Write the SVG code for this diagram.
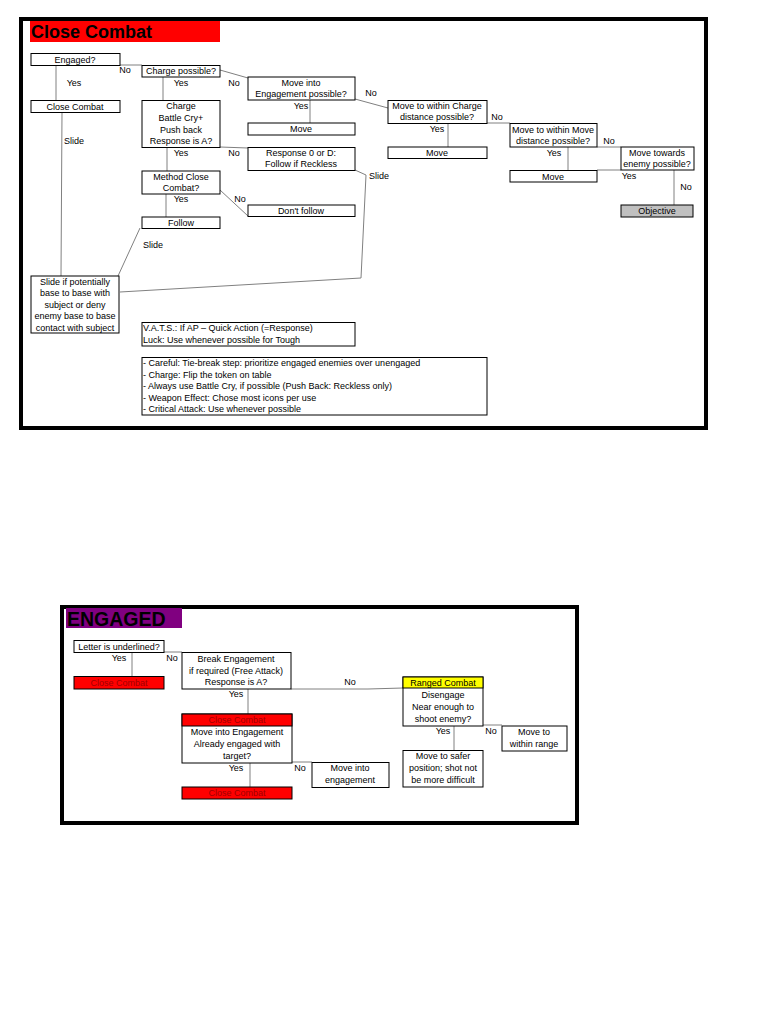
<svg xmlns="http://www.w3.org/2000/svg" width="768" height="1024" viewBox="0 0 768 1024">
<style>
.bx{fill:#fff;stroke:#000;stroke-width:1}
.t{font-family:"Liberation Sans",Arial,sans-serif;font-size:9px;fill:#000;text-anchor:middle}
.l{font-family:"Liberation Sans",Arial,sans-serif;font-size:9px;fill:#000}
.r{fill:#a00000}
.c line,.c polyline{stroke:#808080;stroke-width:1;fill:none}
.frame{fill:none;stroke:#000;stroke-width:4}
</style>
<rect width="768" height="1024" fill="#fff"/>
<rect class="frame" x="21" y="19" width="685" height="409"/>
<rect class="frame" x="62" y="607" width="515" height="216"/>
<g id="title1"><rect x="30" y="21" width="190" height="21" fill="#ff0000"/><text x="31" y="37.5" style="font-family:'Liberation Sans',Arial,sans-serif;font-size:18px;font-weight:bold">Close Combat</text></g>
<g id="title2"><rect x="66" y="608" width="116" height="20" fill="#800080"/><text x="67" y="625.5" style="font-family:'Liberation Sans',Arial,sans-serif;font-size:19.5px;font-weight:bold">ENGAGED</text></g>

<g class="c" id="connectors">
<line x1="56" y1="65" x2="56" y2="100"/>
<line x1="120" y1="65" x2="142" y2="65"/>
<line x1="163" y1="77" x2="163" y2="100"/>
<line x1="220" y1="70" x2="248" y2="78"/>
<line x1="310" y1="100" x2="310" y2="123"/>
<line x1="355" y1="99" x2="388" y2="108"/>
<line x1="167" y1="147" x2="167" y2="171"/>
<line x1="220" y1="147" x2="248" y2="148"/>
<line x1="166" y1="194" x2="166" y2="217"/>
<line x1="220" y1="190" x2="248" y2="216"/>
<polyline points="355,170 366,175 361,278 120,292"/>
<line x1="62" y1="112" x2="61" y2="276"/>
<line x1="140" y1="228" x2="118" y2="276"/>
<line x1="448" y1="123" x2="448" y2="147"/>
<line x1="487" y1="123" x2="510" y2="123"/>
<line x1="568" y1="147" x2="568" y2="170"/>
<line x1="597" y1="147" x2="621" y2="147"/>
<line x1="597" y1="170" x2="621" y2="170"/>
<line x1="674" y1="170" x2="674" y2="205"/>
<line x1="132" y1="652" x2="132" y2="676"/>
<line x1="164" y1="652" x2="182" y2="652"/>
<line x1="248" y1="689" x2="248" y2="714"/>
<polyline points="291,689 368,689 403,688"/>
<line x1="250" y1="763" x2="250" y2="787"/>
<line x1="292" y1="762" x2="312" y2="762"/>
<line x1="454" y1="726" x2="454" y2="750"/>
<line x1="483" y1="725" x2="502" y2="725"/>
</g>

<g id="labels">
<text class="t" x="74" y="86">Yes</text>
<text class="t" x="125" y="73">No</text>
<text class="t" x="181" y="86">Yes</text>
<text class="t" x="234" y="86">No</text>
<text class="t" x="301" y="109">Yes</text>
<text class="t" x="371" y="96">No</text>
<text class="t" x="181" y="156">Yes</text>
<text class="t" x="234" y="156">No</text>
<text class="t" x="181" y="202">Yes</text>
<text class="t" x="240" y="202">No</text>
<text class="t" x="74" y="144">Slide</text>
<text class="t" x="153" y="248">Slide</text>
<text class="t" x="379" y="179">Slide</text>
<text class="t" x="437" y="132">Yes</text>
<text class="t" x="497" y="120">No</text>
<text class="t" x="554" y="156">Yes</text>
<text class="t" x="609" y="144">No</text>
<text class="t" x="629" y="179">Yes</text>
<text class="t" x="686" y="190">No</text>
<text class="t" x="119" y="661">Yes</text>
<text class="t" x="172" y="661">No</text>
<text class="t" x="236" y="697">Yes</text>
<text class="t" x="350" y="685">No</text>
<text class="t" x="236" y="771">Yes</text>
<text class="t" x="300" y="771">No</text>
<text class="t" x="443" y="734">Yes</text>
<text class="t" x="491" y="734">No</text>
</g>

<g id="n-engaged"><rect class="bx" x="31" y="53.5" width="89" height="12"/><text class="t" x="75" y="62.5">Engaged?</text></g>
<g id="n-cc"><rect class="bx" x="31" y="100.5" width="89" height="12"/><text class="t" x="75" y="109.5">Close Combat</text></g>
<g id="n-chargepos"><rect class="bx" x="142" y="65.5" width="78" height="11.5"/><text class="t" x="181" y="74">Charge possible?</text></g>
<g id="n-charge"><rect class="bx" x="142" y="100.5" width="78" height="47"/>
<text class="t" x="181" y="109">Charge</text><text class="t" x="181" y="121">Battle Cry+</text><text class="t" x="181" y="132.5">Push back</text><text class="t" x="181" y="144">Response is A?</text></g>
<g id="n-method"><rect class="bx" x="142" y="171" width="78" height="23"/><text class="t" x="181" y="179.5">Method Close</text><text class="t" x="181" y="191">Combat?</text></g>
<g id="n-follow"><rect class="bx" x="142" y="217" width="78" height="11.5"/><text class="t" x="181" y="225.5">Follow</text></g>
<g id="n-moveeng"><rect class="bx" x="248" y="77" width="107" height="23"/><text class="t" x="301" y="86">Move into</text><text class="t" x="301" y="97">Engagement possible?</text></g>
<g id="n-move1"><rect class="bx" x="248" y="123" width="107" height="12"/><text class="t" x="301" y="132">Move</text></g>
<g id="n-resp"><rect class="bx" x="248" y="147.5" width="107" height="23"/><text class="t" x="301" y="156">Response 0 or D:</text><text class="t" x="301" y="167">Follow if Reckless</text></g>
<g id="n-dontfollow"><rect class="bx" x="248" y="205" width="107" height="11.5"/><text class="t" x="301" y="214">Don't follow</text></g>
<g id="n-chargedist"><rect class="bx" x="388" y="100.5" width="99" height="23"/><text class="t" x="437" y="109">Move to within Charge</text><text class="t" x="437" y="120">distance possible?</text></g>
<g id="n-move2"><rect class="bx" x="388" y="147" width="99" height="11.5"/><text class="t" x="437" y="156">Move</text></g>
<g id="n-movedist"><rect class="bx" x="510" y="123.5" width="87" height="23.5"/><text class="t" x="553" y="132.5">Move to within Move</text><text class="t" x="553" y="144">distance possible?</text></g>
<g id="n-move3"><rect class="bx" x="510" y="170.5" width="87" height="11.5"/><text class="t" x="553" y="179.5">Move</text></g>
<g id="n-towards"><rect class="bx" x="621" y="147" width="73" height="23"/><text class="t" x="657" y="156">Move towards</text><text class="t" x="657" y="167">enemy possible?</text></g>
<g id="n-objective"><rect x="621" y="205" width="72" height="12" fill="#c0c0c0" stroke="#000" stroke-width="1"/><text class="t" x="657" y="214">Objective</text></g>
<g id="n-slide"><rect class="bx" x="31" y="276" width="88" height="57"/>
<text class="t" x="75" y="284.5">Slide if potentially</text><text class="t" x="75" y="296">base to base with</text><text class="t" x="75" y="307.5">subject or deny</text><text class="t" x="75" y="319">enemy base to base</text><text class="t" x="75" y="330.5">contact with subject</text></g>
<g id="n-vats"><rect class="bx" x="142" y="322.5" width="213" height="23.5"/><text class="l" x="143" y="331">V.A.T.S.: If AP – Quick Action (=Response)</text><text class="l" x="143" y="342.5">Luck: Use whenever possible for Tough</text></g>
<g id="n-notes"><rect class="bx" x="142" y="357.5" width="345" height="57.5"/>
<text class="l" x="143" y="366">- Careful: Tie-break step: prioritize engaged enemies over unengaged</text>
<text class="l" x="143" y="377.5">- Charge: Flip the token on table</text>
<text class="l" x="143" y="389">- Always use Battle Cry, if possible (Push Back: Reckless only)</text>
<text class="l" x="143" y="400.5">- Weapon Effect: Chose most icons per use</text>
<text class="l" x="143" y="412">- Critical Attack: Use whenever possible</text></g>

<g id="e-letter"><rect class="bx" x="74" y="640.5" width="90" height="12"/><text class="t" x="119" y="649.5">Letter is underlined?</text></g>
<g id="e-cc1"><rect x="74" y="676.5" width="90" height="12.5" fill="#ff0000" stroke="#000" stroke-width="1"/><text class="t r" x="119" y="686">Close Combat</text></g>
<g id="e-break"><rect class="bx" x="182" y="652.5" width="109" height="36.5"/><text class="t" x="236" y="661.5">Break Engagement</text><text class="t" x="236" y="673.5">if required (Free Attack)</text><text class="t" x="236" y="685">Response is A?</text></g>
<g id="e-cc2"><rect class="bx" x="182" y="714" width="110" height="49"/><rect x="182" y="714" width="110" height="12" fill="#ff0000" stroke="#000" stroke-width="1"/>
<text class="t r" x="237" y="723">Close Combat</text><text class="t" x="237" y="734.5">Move into Engagement</text><text class="t" x="237" y="746.5">Already engaged with</text><text class="t" x="237" y="758.5">target?</text></g>
<g id="e-cc3"><rect x="182" y="787" width="110" height="12" fill="#ff0000" stroke="#000" stroke-width="1"/><text class="t r" x="237" y="796">Close Combat</text></g>
<g id="e-moveinto"><rect class="bx" x="312" y="762.5" width="77" height="25"/><text class="t" x="350" y="771">Move into</text><text class="t" x="350" y="783">engagement</text></g>
<g id="e-ranged"><rect class="bx" x="403" y="677" width="80" height="49"/><rect x="403" y="677" width="80" height="11" fill="#ffff00" stroke="#000" stroke-width="1"/>
<text class="t" x="443" y="686">Ranged Combat</text><text class="t" x="443" y="697.5">Disengage</text><text class="t" x="443" y="709.5">Near enough to</text><text class="t" x="443" y="721.5">shoot enemy?</text></g>
<g id="e-within"><rect class="bx" x="502" y="726" width="65" height="25"/><text class="t" x="534" y="734.5">Move to</text><text class="t" x="534" y="746.5">within range</text></g>
<g id="e-safer"><rect class="bx" x="403" y="750.5" width="80" height="36.5"/><text class="t" x="443" y="759">Move to safer</text><text class="t" x="443" y="771">position; shot not</text><text class="t" x="443" y="783">be more difficult</text></g>
</svg>
